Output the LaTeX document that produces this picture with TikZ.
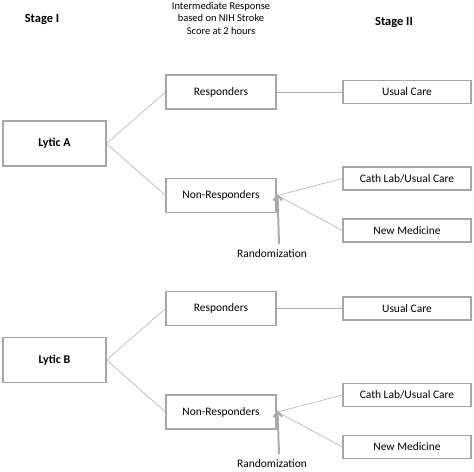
\documentclass[tikz,border=0pt]{standalone}
\usepackage{fontspec}
\setmainfont{Carlito}
\usetikzlibrary{positioning,arrows.meta}

\tikzset{
  box/.style={draw=gray!70, line width=1.1pt, inner sep=0pt, fill=white,
    font=\fontsize{11.5}{13}\selectfont},
  lyticbox/.style={box, minimum width=103bp, minimum height=45bp,
    font=\fontsize{12}{14}\selectfont\bfseries},
  respbox/.style={box, minimum width=110bp, minimum height=34bp},
  carebox/.style={box, minimum width=128bp, minimum height=23bp},
  stagelabel/.style={font=\fontsize{12.5}{14}\selectfont\bfseries},
  link/.style={draw=gray!60, line width=0.6pt},
  randarrow/.style={draw=gray!65, line width=2pt, -{Straight Barb[length=5bp,width=9bp]}},
}

\begin{document}
\begin{tikzpicture}[x=1bp,y=-1bp]
\useasboundingbox (0,0) rectangle (474,472);

% headings
\node[stagelabel] (stageI) at (42,19) {Stage I};
\node[align=center, font=\fontsize{10.5}{12.5}\selectfont] (interim) at (221,18)
  {Intermediate Response\\ based on NIH Stroke\\ Score at 2 hours};
\node[stagelabel] (stageII) at (394,22) {Stage II};

% two arms
\foreach \arm/\dy/\ab/\rl in {A/0/244/254, B/216.5/454/464} {
  \node[lyticbox] (lytic\arm) at (54.5,143.5+\dy) {Lytic \arm};
  \node[respbox] (resp\arm) at (221,92+\dy) {Responders};
  \node[respbox] (nonresp\arm) at (221,195.5+\dy) {Non-Responders};
  \node[carebox] (usual\arm) at (407,92+\dy) {Usual Care};
  \node[carebox] (cath\arm) at (407,178.5+\dy) {Cath Lab/Usual Care};
  \node[carebox] (newmed\arm) at (407,230.5+\dy) {New Medicine};
  \coordinate (split\arm) at ([xshift=1bp]nonresp\arm.east);

  \draw[link] (lytic\arm.east) -- (resp\arm.west);
  \draw[link] (lytic\arm.east) -- (nonresp\arm.west);
  \draw[link] (resp\arm.east) -- (usual\arm.west);
  \draw[link] (split\arm) -- (cath\arm.west);
  \draw[link] (split\arm) -- (newmed\arm.west);

  % randomization
  \node[font=\fontsize{11.5}{13}\selectfont] (rand\arm) at (272,\rl) {Randomization};
  \coordinate (randfoot\arm) at (279,\ab);
  \draw[randarrow] (randfoot\arm) -- ([yshift=1.5bp]split\arm);
}
\end{tikzpicture}
\end{document}
